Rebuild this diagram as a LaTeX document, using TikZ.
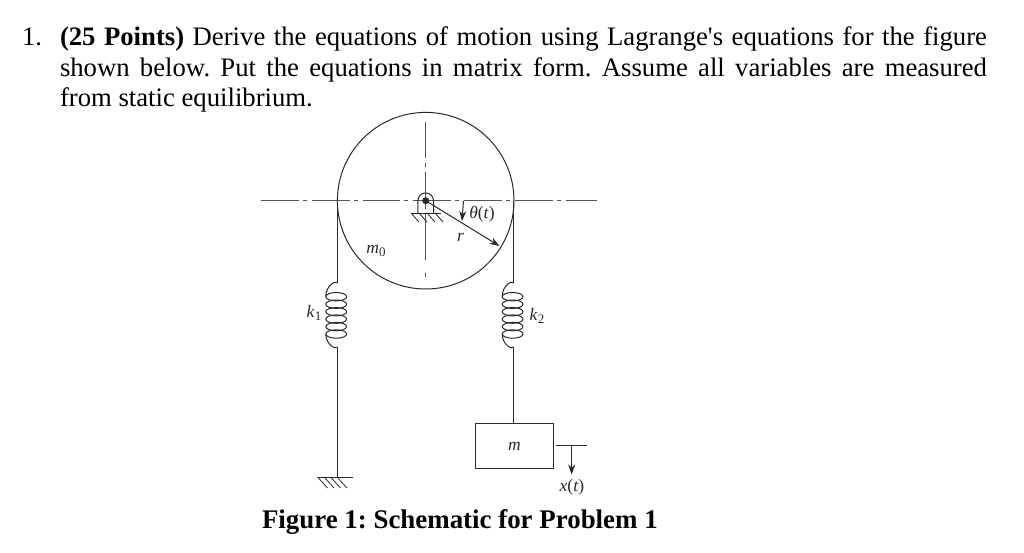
\documentclass[tikz,border=0pt]{standalone}
\usepackage{fontspec}
\setmainfont{Liberation Serif}
\newfontfamily\plainserif{Liberation Serif}
\usetikzlibrary{arrows.meta}
\definecolor{ink}{HTML}{2A2A2A}
\tikzset{
  x=1pt,y=-1pt,
  txt/.style={anchor=base west,inner sep=0pt,outer sep=0pt,text=black,font=\fontsize{26.7}{30}\selectfont},
  lbl/.style={inner sep=0pt,outer sep=0pt,text=ink,font=\fontsize{17.5}{20}\selectfont},
  wire/.style={draw=ink,line width=1pt},
  hatch/.style={draw=ink,line width=0.8pt},
  boxline/.style={draw=ink,line width=1.4pt},
  centerline/.style={draw=ink!80,line width=0.9pt},
  tip/.style={-{Stealth[length=10pt,width=7pt]}}
}
\newcommand{\subs}[1]{\raisebox{-3pt}{\fontsize{13}{14}\selectfont #1}}
\begin{document}
\begin{tikzpicture}
\useasboundingbox[fill=white] (0,0) rectangle (1024,552);
\frenchspacing
% text
\node[txt] (n) at (22,45) {1.};
\node[txt] (l1) at (60,45) {\makebox[927pt][s]{\textbf{(25 Points)} Derive the equations of motion using Lagrange{\plainserif '}s equations for the figure}};
\node[txt] (l2) at (60,76) {\makebox[927pt][s]{shown below. Put the equations in matrix form. Assume all variables are measured}};
\node[txt] (l3) at (60,106) {from static equilibrium.};
\node[txt] (cap) at (262,528) {\fontsize{26.9}{30}\selectfont\textbf{Figure 1: Schematic for Problem 1}};
% named points
\coordinate (c) at (425.7,200.7);
\coordinate (hL) at (261,200.7); \coordinate (hR) at (597,200.7);
\coordinate (vT) at (425.7,122); \coordinate (vB) at (425.7,277);
\coordinate (rEnd) at (499.5,246);
\coordinate (w1a) at (337.3,200.7); \coordinate (w1b) at (337.3,283);
\coordinate (w1c) at (337.3,347);  \coordinate (g1) at (337.3,477);
\coordinate (w2a) at (513.5,200.7); \coordinate (w2b) at (513.5,283);
\coordinate (w2c) at (513.5,347);
% disc
\draw[wire] (c) circle (88.3);
% centre lines
\draw[centerline,dash pattern=on 37.8pt off 4pt on 4pt off 5pt] (hL) -- (hR);
\draw[centerline,dash pattern=on 36pt off 5pt on 4pt off 5pt on 37pt off 4pt on 47pt off 13pt on 4pt off 20pt] (vT) -- (vB);
% springs
\foreach \sx/\ax/\bx in {336.2/w1b/w1c,512.6/w2b/w2c}{
  \foreach \sy in {296.7,304.2,311.7,319.1,326.6,334}{
    \draw[wire] (\sx,\sy) ellipse (10.4 and 4.2);
  }
  \draw[wire] (\ax) .. controls ([xshift=-1pt,yshift=3pt]\ax) and (\sx-10.4,285) .. (\sx-10.4,296.7);
  \draw[wire] (\bx) .. controls ([xshift=-1pt,yshift=-3pt]\bx) and (\sx-10.4,345) .. (\sx-10.4,334);
}
\draw[wire] (w1a) -- (w1b);
\draw[wire] (w1c) -- (g1);
% ground at left
\draw[wire] (317.5,477) -- (352.5,477);
\foreach \gx in {317.5,324,...,343}{\draw[hatch] (\gx,477) -- (\gx+10,488);}
% mass
\node[boxline,draw,minimum width=78pt,minimum height=45pt,inner sep=0pt,anchor=north west] (mass) at (474.7,423) {};
\node[lbl] (mlab) at (mass.center) {\textit{m}};
\draw[wire] (w2a) -- (w2b);
\draw[wire] (w2c) -- (mass.north-|w2c);
% displacement
\coordinate (d1) at (556,445.7); \coordinate (d2) at (587,445.7);
\coordinate (d0) at (571.7,445.7); \coordinate (d3) at (571.7,474.5);
\draw[wire] (d1) -- (d2);
\draw[wire,tip] (d0) -- (d3);
\node[lbl] (xl) at (572,487) {\textit{x}(\textit{t})};
% pivot
\coordinate (pl) at (417.9,213); \coordinate (pr) at (433.5,213);
\draw[wire] (pl) -- (417.9,200.7) arc[start angle=180,end angle=360,radius=7.8] -- (pr);
\draw[wire] (411,213) -- (441,213);
\foreach \gx in {411,419,...,435}{\draw[hatch] (\gx,213) -- (\gx+8,222);}
\fill[ink] (c) circle (3.5);
\draw[wire,tip] (c) -- (rEnd);
% theta
\coordinate (ta) at (463.5,201); \coordinate (tb) at (462,221);
\draw[wire,tip] (ta) -- (tb);
\node[lbl] (th) at (482,214) {\textit{θ}(\textit{t})};
\node[lbl] (rl) at (460.5,237) {\textit{r}};
\node[lbl] (m0) at (376,251) {\textit{m}\subs{0}};
\node[lbl] (k1) at (314,313) {\textit{k}\subs{1}};
\node[lbl] (k2) at (537,316) {\textit{k}\subs{2}};
\end{tikzpicture}
\end{document}
